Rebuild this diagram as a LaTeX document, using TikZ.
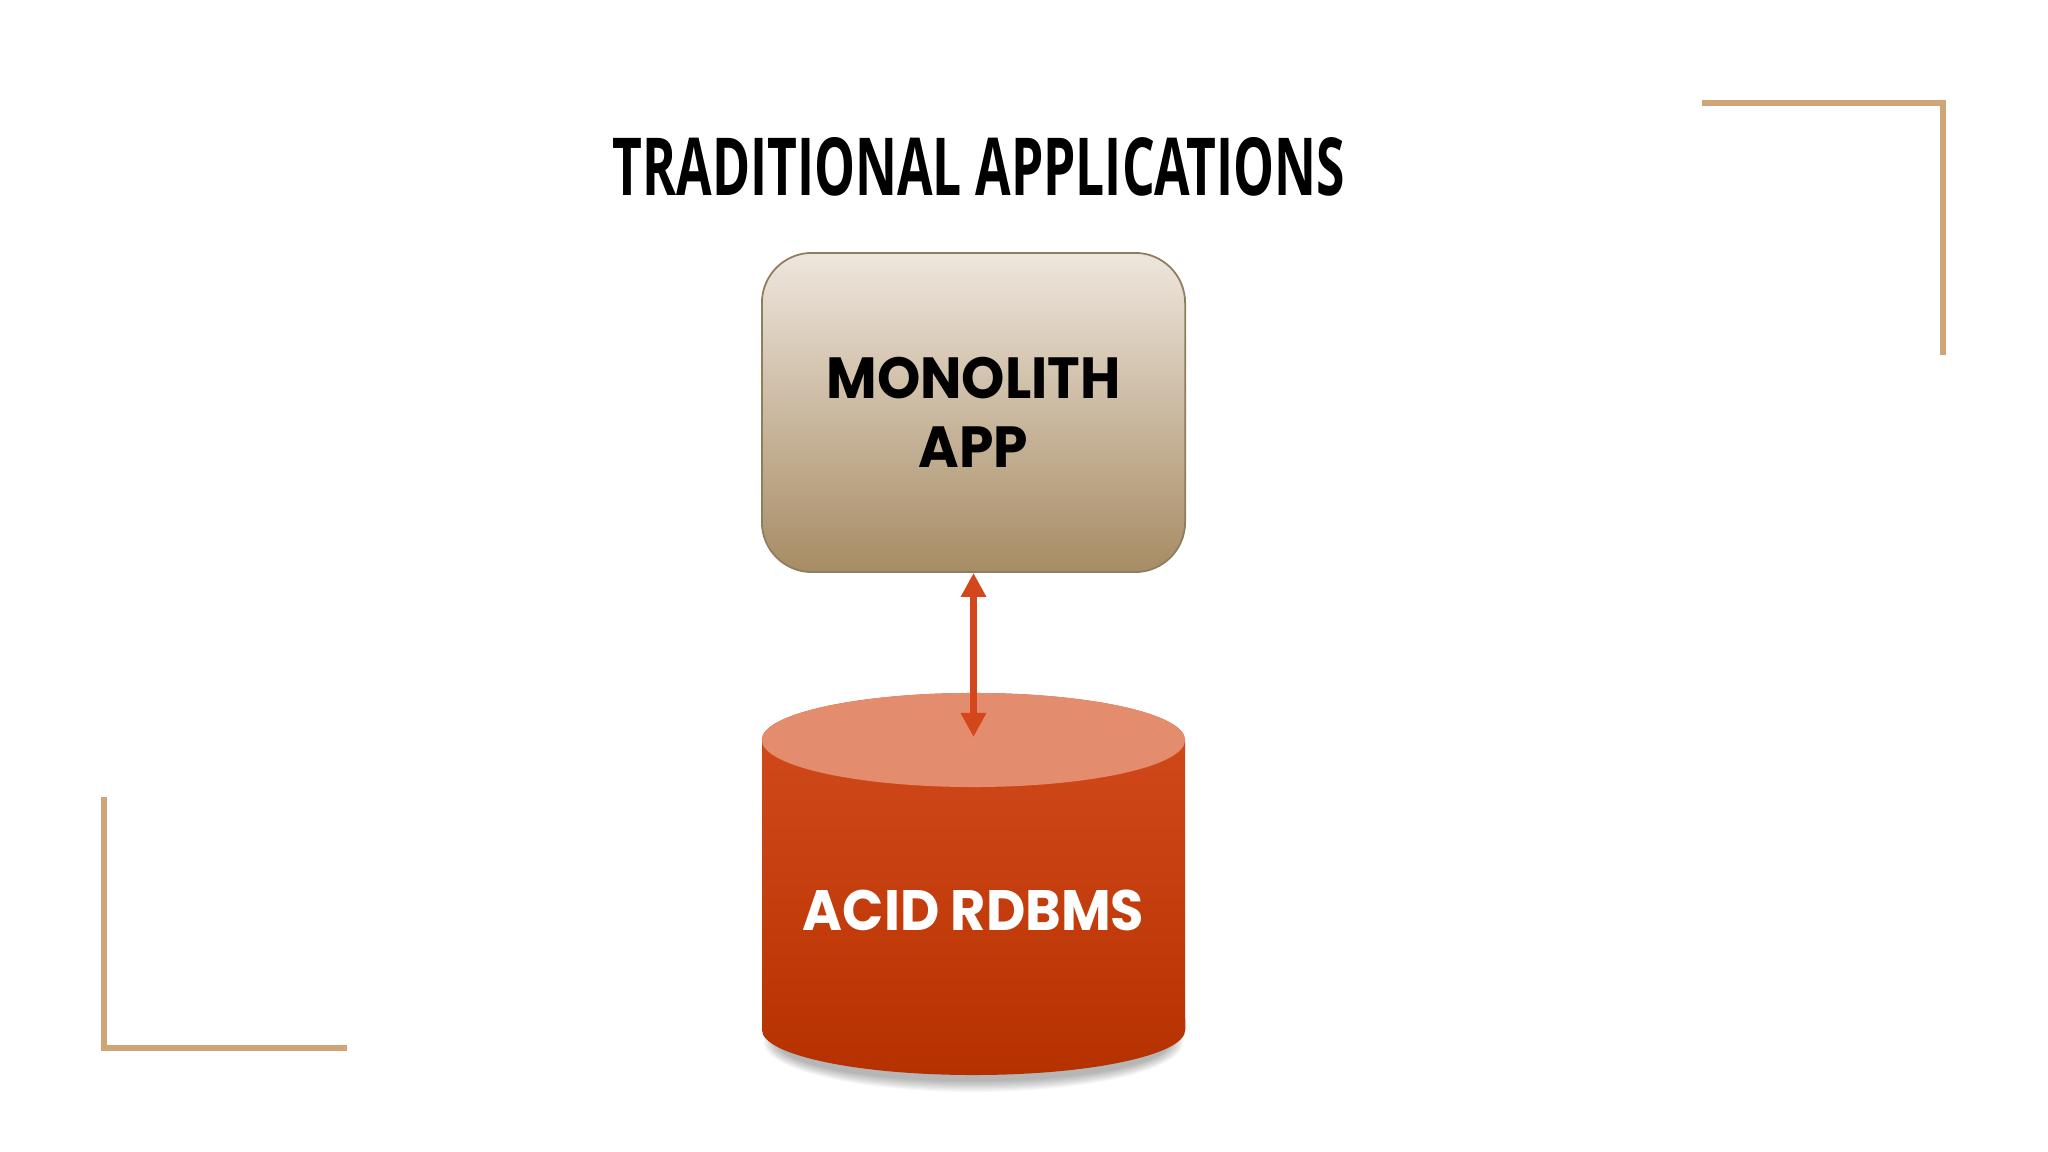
\documentclass[tikz,border=0pt]{standalone}
\usepackage{fontspec}
\setmainfont{Poppins}
\newfontfamily\labelfont[FakeStretch=0.95]{Poppins}
\newfontfamily\titlefont{Open Sans}
\usetikzlibrary{arrows.meta}
\definecolor{bracket}{HTML}{CFA577}
\definecolor{apptop}{HTML}{EEE6DD}
\definecolor{appbot}{HTML}{A78C64}
\definecolor{appline}{HTML}{8E7D5E}
\definecolor{dbtopc}{HTML}{E48C6E}
\definecolor{dbbodytop}{HTML}{D44C1E}
\definecolor{dbbodybot}{HTML}{B63100}
\definecolor{arrowc}{HTML}{D4461C}
\tikzset{
  bracketline/.style={draw=bracket, line width=0.06cm, line join=miter},
  appbox/.style={draw=appline, line width=0.5pt, rounded corners=0.5cm,
    top color=apptop, bottom color=appbot, minimum width=4.23cm, minimum height=3.19cm,
    align=center, font=\labelfont\fontsize{16.5}{19.6}\selectfont\bfseries, text=black},
  dblabel/.style={font=\labelfont\fontsize{16.2}{19.6}\selectfont\bfseries, text=white, inner sep=0},
  linkarrow/.style={draw=arrowc, line width=0.07cm, {Triangle[width=0.24cm,length=0.24cm]}-{Triangle[width=0.24cm,length=0.24cm]}},
}
\begin{document}
\begin{tikzpicture}[x=0.01cm, y=-0.01cm]
\useasboundingbox[fill=white] (0,0) rectangle (2048,1152);
% corner brackets
\draw[bracketline] (1702,103) -- (1943,103) -- (1943,355);
\draw[bracketline] (104,797) -- (104,1048) -- (347,1048);
% title
\node[anchor=base, inner sep=0] (title) at (979,196)
  {\resizebox{7.32cm}{0.58cm}{\titlefont\bfseries TRADITIONAL APPLICATIONS}};
% monolith app
\node[appbox] (app) at (973.5,412.5) {MONOLITH\\APP};
% database cylinder shadow (soft)
\foreach \i in {0,...,9}{
  \fill[black, opacity=0.03] (973.5,1042) ellipse ({2.10cm-\i*0.015cm} and {0.50cm-\i*0.012cm});
}
% body
\shade[top color=dbbodytop, bottom color=dbbodybot]
  (762,740) -- (762,1030) arc[start angle=180, end angle=360, x radius=2.115cm, y radius=0.45cm]
  -- (1185,740) arc[start angle=0, end angle=180, x radius=2.115cm, y radius=0.47cm] -- cycle;
% top
\fill[dbtopc] (973.5,740) ellipse (2.115cm and 0.47cm);
\coordinate (dbtop) at (973.5,737);
\node[dblabel, anchor=base] (db) at (973.5,930) {ACID RDBMS};
% connector
\draw[linkarrow] (app.south) -- (dbtop);
\end{tikzpicture}
\end{document}
